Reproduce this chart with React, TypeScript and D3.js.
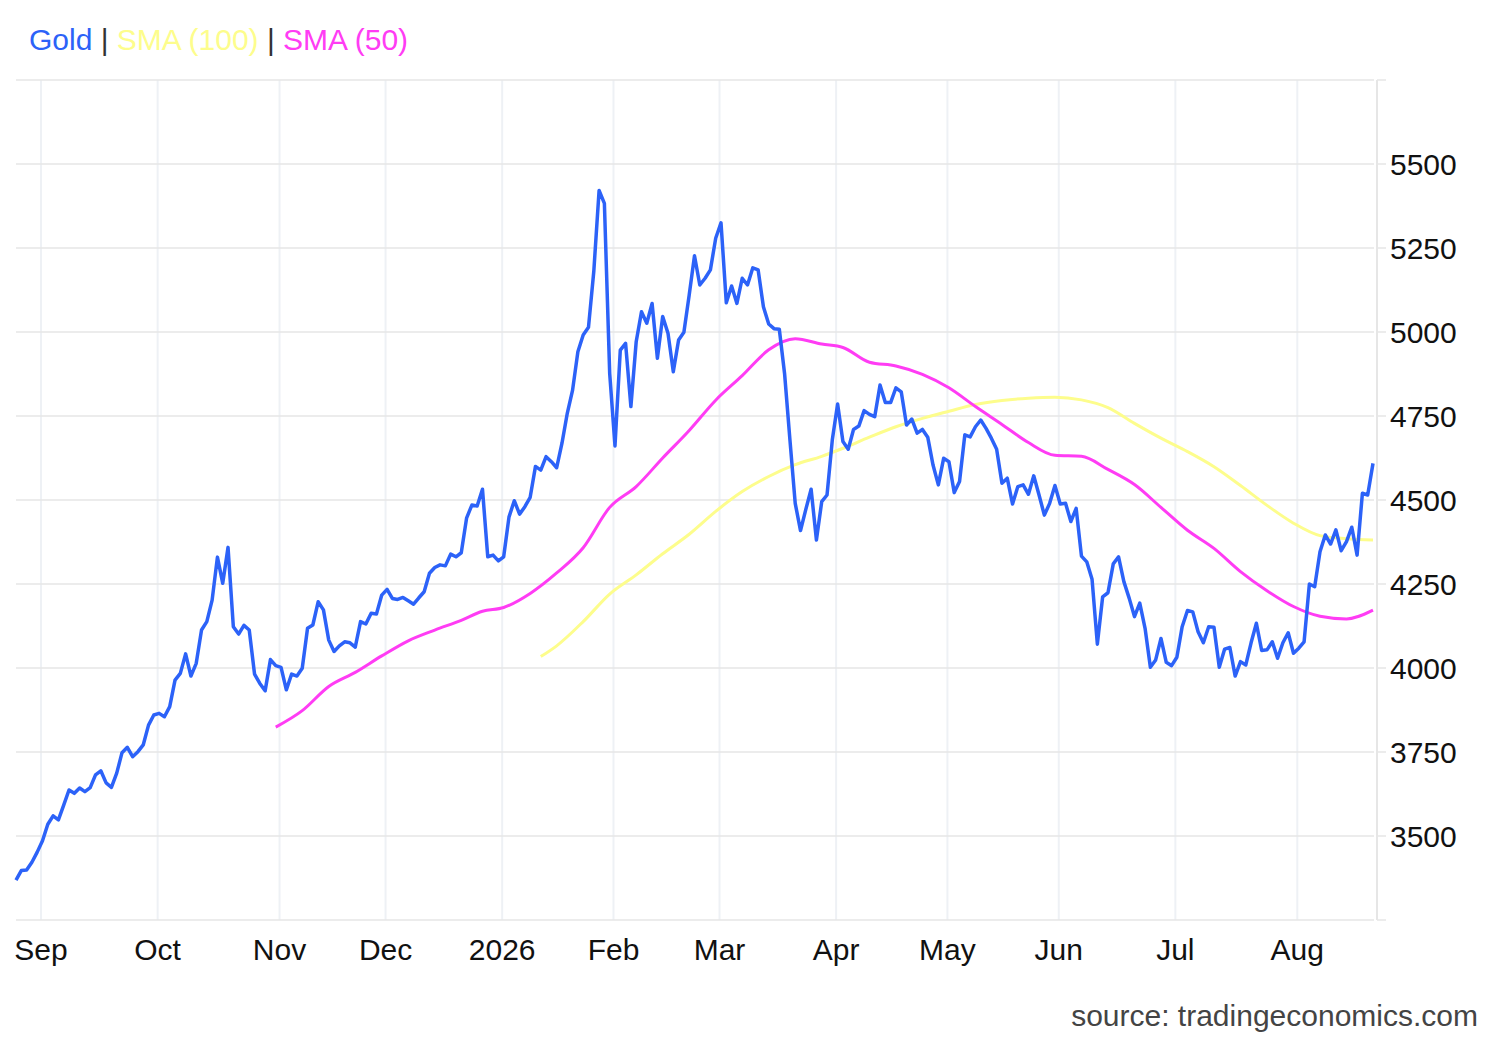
import * as d3 from "d3";

// trading calendar of the series
const START = "2025-08-25";
const END = "2026-08-21";
const HOLIDAYS = ["2025-12-25", "2026-01-01", "2026-04-03"];

// daily gold close, one value per trading day from START to END
const goldClose = [
  3369, 3397, 3399, 3422, 3452, 3486, 3535, 3560, 3548, 3592,
  3637, 3627, 3643, 3632, 3644, 3682, 3694, 3658, 3645, 3687,
  3748, 3764, 3736, 3751, 3771, 3830, 3860, 3865, 3855, 3885,
  3964, 3984, 4042, 3976, 4014, 4113, 4138, 4202, 4330, 4252,
  4359, 4123, 4101, 4127, 4113, 3982, 3954, 3932, 4025, 4007,
  4002, 3935, 3982, 3976, 3999, 4118, 4128, 4197, 4173, 4083,
  4049, 4066, 4078, 4075, 4062, 4138, 4131, 4163, 4161, 4217,
  4234, 4207, 4204, 4210, 4200, 4190, 4209, 4227, 4282, 4299,
  4307, 4304, 4339, 4331, 4343, 4446, 4485, 4482, 4532, 4331,
  4336, 4319, 4331, 4449, 4498, 4458, 4480, 4508, 4600, 4589,
  4629, 4614, 4596, 4669, 4758, 4827, 4941, 4991, 5014, 5180,
  5421, 5383, 4877, 4661, 4946, 4966, 4778, 4971, 5060, 5026,
  5085, 4922, 5046, 4996, 4882, 4976, 4999, 5110, 5227, 5140,
  5160, 5185, 5279, 5325, 5087, 5137, 5085, 5160, 5140, 5191,
  5185, 5075, 5024, 5010, 5008, 4875, 4680, 4490, 4409, 4472,
  4532, 4381, 4495, 4515, 4679, 4786, 4674, 4651, 4710, 4720,
  4766, 4755, 4748, 4842, 4790, 4790, 4834, 4822, 4723, 4741,
  4699, 4710, 4687, 4604, 4545, 4624, 4614, 4522, 4555, 4694,
  4688, 4718, 4738, 4713, 4684, 4651, 4550, 4565, 4488, 4540,
  4545, 4517, 4572, 4515, 4455, 4490, 4543, 4488, 4490, 4436,
  4475, 4333, 4316, 4264, 4071, 4212, 4224, 4310, 4331, 4257,
  4208, 4153, 4193, 4118, 4002, 4024, 4088, 4017, 4007, 4032,
  4123, 4171, 4167, 4108, 4075, 4123, 4121, 4002, 4056, 4061,
  3976, 4019, 4009, 4075, 4133, 4052, 4054, 4078, 4029, 4075,
  4105, 4044, 4059, 4078, 4250, 4242, 4346, 4396, 4369, 4411,
  4349, 4376, 4419, 4336, 4520, 4515, 4609,
];

// moving averages, read weekly (Fridays)
const sma50First = "2025-10-31";
const sma50Values = [
  3824, 3873, 3945, 3987, 4036, 4081, 4113, 4142, 4169, 4180,
  4222, 4283, 4358, 4478, 4540, 4625, 4707, 4797, 4870, 4947,
  4980, 4964, 4954, 4910, 4899, 4874, 4834, 4778, 4725, 4671,
  4633, 4630, 4591, 4546, 4478, 4410, 4356, 4287, 4230, 4183,
  4154, 4146, 4172,
];

const sma100Start = "2026-01-13";
const sma100FirstFriday = "2026-01-16";
const sma100Values = [
  4034, 4066, 4138, 4220, 4277, 4340, 4398, 4466, 4525, 4570,
  4605, 4630, 4654, 4687, 4718, 4743, 4764, 4784, 4796, 4803,
  4806, 4798, 4775, 4728, 4684, 4644, 4599, 4543, 4484, 4431,
  4394, 4385, 4381,
];

const monthLabels = ["Sep", "Oct", "Nov", "Dec", "2026", "Feb", "Mar", "Apr", "May", "Jun", "Jul", "Aug"];
const yTicks = [3500, 3750, 4000, 4250, 4500, 4750, 5000, 5250, 5500];

const FONT = "'Liberation Sans', Arial, Helvetica, sans-serif";
const GOLD = "#2c62f8";
const SMA100 = "#fdfd8c";
const SMA50 = "#ff3cf4";

const parse = d3.utcParse("%Y-%m-%d");
const fmt = d3.utcFormat("%Y-%m-%d");

const tradingDays = d3.utcDay
  .range(parse(START)!, d3.utcDay.offset(parse(END)!, 1))
  .filter((d) => d.getUTCDay() !== 0 && d.getUTCDay() !== 6 && !HOLIDAYS.includes(fmt(d)));

const dayIndex = (d: Date) => d3.bisectRight(tradingDays, d) - 1;

export default function App() {
  const width = 1500;
  const height = 1040;
  const left = 16;
  const right = 1373;
  const top = 80;
  const bottom = 920;
  const axisX = 1377;

  const x = d3.scaleLinear([0, tradingDays.length - 1], [left, right]);
  const y = d3.scaleLinear([3250, 5750], [bottom, top]);

  const gold = goldClose.map((v, i) => ({ i, v }));

  const sma50Dates = d3.utcFriday.range(parse(sma50First)!, d3.utcDay.offset(parse(END)!, 1));
  const sma50 = sma50Values.map((v, k) => ({ i: dayIndex(sma50Dates[k]), v }));

  const sma100Dates = [
    parse(sma100Start)!,
    ...d3.utcFriday.range(parse(sma100FirstFriday)!, d3.utcDay.offset(parse(END)!, 1)),
  ];
  const sma100 = sma100Values.map((v, k) => ({ i: dayIndex(sma100Dates[k]), v }));

  const rawLine = d3
    .line<{ i: number; v: number }>()
    .x((d) => x(d.i))
    .y((d) => y(d.v));
  const smoothLine = d3
    .line<{ i: number; v: number }>()
    .x((d) => x(d.i))
    .y((d) => y(d.v))
    .curve(d3.curveMonotoneX);

  const months = d3.utcMonth.range(parse("2025-09-01")!, parse("2026-08-02")!);
  const monthTicks = months.map((m, k) => ({ i: d3.bisectLeft(tradingDays, m), label: monthLabels[k] }));

  const gridY = d3.range(3250, 5751, 250);

  return (
    <svg
      width={width}
      height={height}
      style={{ position: "absolute", left: 0, top: 0, background: "#fff" }}
      fontFamily={FONT}
    >
      <text x={29} y={50} fontSize={30}>
        <tspan fill={GOLD}>Gold</tspan>
        <tspan fill="#333"> | </tspan>
        <tspan fill={SMA100}>SMA (100)</tspan>
        <tspan fill="#333"> | </tspan>
        <tspan fill={SMA50}>SMA (50)</tspan>
      </text>

      <g>
        {monthTicks.map((t) => (
          <line key={t.label} x1={x(t.i) - 1.5} x2={x(t.i) - 1.5} y1={top} y2={bottom} stroke="#eef1f5" strokeWidth={2} />
        ))}
        {gridY.map((v) => (
          <line key={v} x1={left} x2={right + 1} y1={y(v)} y2={y(v)} stroke="#e6e6e6" strokeWidth={1.5} />
        ))}
        <line x1={axisX} x2={axisX} y1={top} y2={bottom} stroke="#e6e6e6" strokeWidth={2} />
        {gridY.map((v) => (
          <line key={"t" + v} x1={axisX} x2={axisX + 9} y1={y(v)} y2={y(v)} stroke="#e6e6e6" strokeWidth={1.5} />
        ))}
      </g>

      <g fontSize={30} fill="#111">
        {yTicks.map((v) => (
          <text key={v} x={1390} y={y(v)} dy="0.35em">
            {v}
          </text>
        ))}
        {monthTicks.map((t) => (
          <text key={t.label} x={x(t.i) - 1.5} y={960} textAnchor="middle">
            {t.label}
          </text>
        ))}
      </g>

      <path d={smoothLine(sma100) ?? ""} fill="none" stroke={SMA100} strokeWidth={3} />
      <path d={smoothLine(sma50) ?? ""} fill="none" stroke={SMA50} strokeWidth={3} />
      <path d={rawLine(gold) ?? ""} fill="none" stroke={GOLD} strokeWidth={3.5} strokeLinejoin="round" />

      <text x={1478} y={1026} fontSize={30} fill="#444" textAnchor="end">
        source: tradingeconomics.com
      </text>
    </svg>
  );
}
